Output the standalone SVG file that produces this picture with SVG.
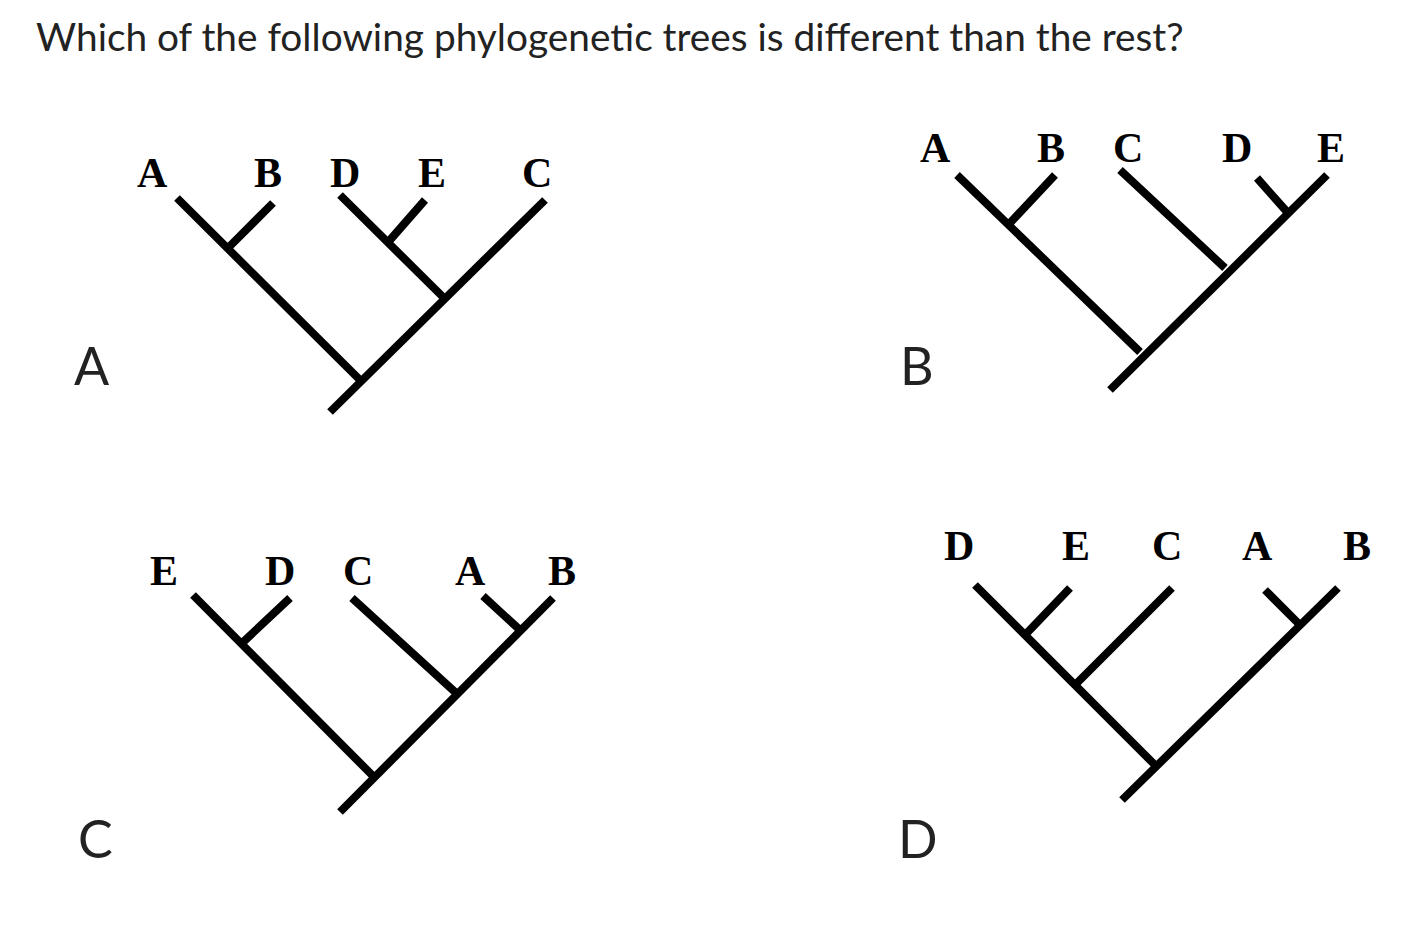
<svg xmlns="http://www.w3.org/2000/svg" width="1418" height="936" viewBox="0 0 1418 936">
<style>
.t{font-family:Lato,"Liberation Sans",sans-serif;fill:#222}
.l{font-family:"Liberation Serif",serif;font-weight:bold;font-size:42px;fill:#000}
.e{stroke:#000;stroke-width:8;stroke-linecap:butt;fill:none}
</style>
<rect width="1418" height="936" fill="#fff"/>
<text class="t" x="36" y="51" font-size="38.8">Which of the following phylogenetic trees is different than the rest?</text>
<g id="treeA">
<text class="t" x="74" y="385" font-size="52">A</text>
<text class="l" x="137" y="187">A</text><text class="l" x="254" y="187">B</text><text class="l" x="330" y="187">D</text><text class="l" x="418" y="187">E</text><text class="l" x="522" y="187">C</text>
<path class="e" d="M177 198L360 380M330 412L545 200M228 248L273 203M443 297L340 195M390 240L425 200"/>
</g>
<g id="treeB">
<text class="t" x="900" y="385" font-size="52">B</text>
<text class="l" x="920" y="162">A</text><text class="l" x="1037" y="162">B</text><text class="l" x="1113" y="162">C</text><text class="l" x="1222" y="162">D</text><text class="l" x="1317" y="162">E</text>
<path class="e" d="M957 175L1140 352M1110 390L1327 175M1010 223L1055 175M1225 268L1120 170M1288 213L1257 178"/>
</g>
<g id="treeC">
<text class="t" x="78" y="858" font-size="52">C</text>
<text class="l" x="150" y="585">E</text><text class="l" x="265" y="585">D</text><text class="l" x="343" y="585">C</text><text class="l" x="455" y="585">A</text><text class="l" x="548" y="585">B</text>
<path class="e" d="M193 595L372 775M340 812L553 598M240 645L290 598M455 692L352 598M520 630L483 596"/>
</g>
<g id="treeD">
<text class="t" x="898" y="858" font-size="52">D</text>
<text class="l" x="944" y="560">D</text><text class="l" x="1062" y="560">E</text><text class="l" x="1152" y="560">C</text><text class="l" x="1242" y="560">A</text><text class="l" x="1343" y="560">B</text>
<path class="e" d="M975 585L1155 765M1122 800L1338 588M1025 635L1070 588M1075 685L1172 588M1300 625L1265 590"/>
</g>
</svg>
